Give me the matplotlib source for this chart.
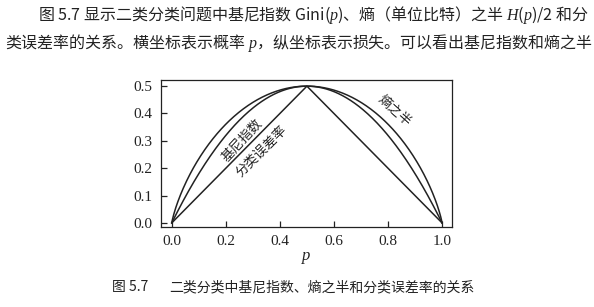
import numpy as np
import matplotlib
matplotlib.use("Agg")
import matplotlib.pyplot as plt

plt.rcParams['font.family'] = ['Liberation Serif', 'Noto Sans CJK SC', 'DejaVu Sans']
plt.rcParams['mathtext.fontset'] = 'custom'
plt.rcParams['mathtext.rm'] = 'Noto Sans CJK SC'
plt.rcParams['mathtext.it'] = 'Liberation Serif:italic'

# probability axis and the three losses (binary classification)
p = np.linspace(0.0, 1.0, 401)
gini = 2 * p * (1 - p)
pc = np.clip(p, 1e-12, 1 - 1e-12)
entropy_half = -(pc * np.log2(pc) + (1 - pc) * np.log2(1 - pc)) / 2
error_rate = np.minimum(p, 1 - p)

xticks = [0.0, 0.2, 0.4, 0.6, 0.8, 1.0]
yticks = [0.0, 0.1, 0.2, 0.3, 0.4, 0.5]
curve_labels = ["基尼指数", "分类误差率", "熵之半"]

line1 = "图 5.7 显示二类分类问题中基尼指数 Gini($p$)、熵（单位比特）之半 $H$($p$)/2 和分"
line2 = "类误差率的关系。横坐标表示概率 $p$，纵坐标表示损失。可以看出基尼指数和熵之半"
caption_no = "图 5.7"
caption = "二类分类中基尼指数、熵之半和分类误差率的关系"

fig = plt.figure(figsize=(5.94, 3.07), dpi=100)
ax = fig.add_axes([0.271, 0.2606, 0.49, 0.4784])

col = "#222222"
ax.plot(p, entropy_half, color=col, lw=1.1)
ax.plot(p, gini, color=col, lw=1.1)
ax.plot(p, error_rate, color=col, lw=1.1)

ax.set_xlim(-0.04, 1.037)
ax.set_ylim(-0.015, 0.522)
ax.set_xticks(xticks)
ax.set_yticks(yticks)
ax.set_xticklabels(["%.1f" % v for v in xticks])
ax.set_yticklabels(["%.1f" % v for v in yticks])
ax.tick_params(direction="in", length=4, width=0.9, labelsize=11, pad=6, colors=col)
for s in ax.spines.values():
    s.set_linewidth(0.9)
    s.set_color(col)
ax.set_xlabel("p", fontsize=12, style="italic", labelpad=0, color=col)

cjk = ['Noto Sans CJK SC', 'DejaVu Sans']
ax.text(0.258, 0.302, curve_labels[0], rotation=47, ha="center", va="center",
        fontsize=9.5, family=cjk, color=col)
ax.text(0.332, 0.262, curve_labels[1], rotation=45, ha="center", va="center",
        fontsize=9.5, family=cjk, color=col)
ax.text(0.826, 0.409, curve_labels[2], rotation=-42, ha="center", va="center",
        fontsize=9.5, family=cjk, color=col)

fig.text(0.064, 0.951, line1, fontsize=11.5, family=cjk, va="center", color=col)
fig.text(0.008, 0.86, line2, fontsize=11.5, family=cjk, va="center", color=col)
fig.text(0.189, 0.065, caption_no, fontsize=10, family=cjk, va="center", color=col)
fig.text(0.285, 0.065, caption, fontsize=10, family=cjk, va="center", color=col)

fig.savefig("out.png", dpi=100)
